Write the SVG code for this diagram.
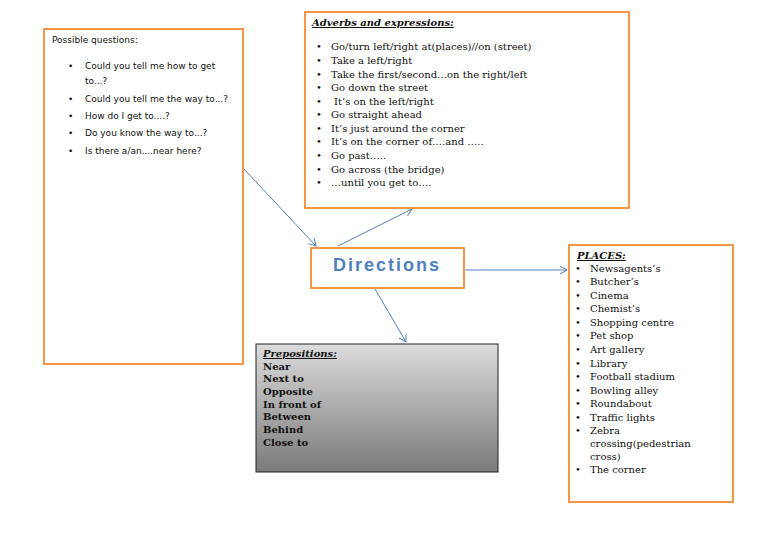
<svg xmlns="http://www.w3.org/2000/svg" width="768" height="543" viewBox="0 0 768 543">
<style>
.box{fill:#fff;stroke:#f79646;stroke-width:2}
.s{font-family:"DejaVu Serif","Liberation Serif",serif;font-size:10px;fill:#111}
.q{font-family:"DejaVu Sans","Liberation Sans",sans-serif;font-size:9px;fill:#111}
.b{font-family:"DejaVu Serif",serif;font-size:10px;font-weight:bold;fill:#111}
.h{font-weight:bold;font-style:italic;text-decoration:underline}
.c{stroke:#4f81bd;stroke-width:1;fill:none;marker-end:url(#a)}
</style>
<defs>
<marker id="a" markerWidth="10" markerHeight="10" refX="8" refY="5" orient="auto" markerUnits="userSpaceOnUse"><path d="M1,1 L8,5 L1,9" fill="none" stroke="#4f81bd" stroke-width="1"/></marker>
<linearGradient id="g" x1="0" y1="0" x2="0" y2="1"><stop offset="0" stop-color="#dcdcdc"/><stop offset="1" stop-color="#7a7a7a"/></linearGradient>
</defs>
<rect width="768" height="543" fill="#fff"/>
<g id="connectors">
<path class="c" d="M243,168 L316,246"/>
<path class="c" d="M338,246 L412,209"/>
<path class="c" d="M464,270 L567,270"/>
<path class="c" d="M375,289 L406,342"/>
</g>
<g id="questions">
<rect class="box" x="44" y="29" width="199" height="335"/>
<text class="q" x="52" y="43">Possible questions:</text>
<g class="q">
<text x="68" y="69">•</text><text x="85" y="69">Could you tell me how to get</text><text x="85" y="84">to...?</text>
<text x="68" y="102">•</text><text x="85" y="102">Could you tell me the way to...?</text>
<text x="68" y="119">•</text><text x="85" y="119">How do I get to....?</text>
<text x="68" y="136">•</text><text x="85" y="136">Do you know the way to...?</text>
<text x="68" y="154">•</text><text x="85" y="154">Is there a/an....near here?</text>
</g>
</g>
<g id="adverbs">
<rect class="box" x="305" y="12" width="324" height="196"/>
<text class="s h" x="312" y="26">Adverbs and expressions:</text>
<g class="s">
<text x="316" y="50">•</text><text x="331" y="50">Go/turn left/right at(places)//on (street)</text>
<text x="316" y="64">•</text><text x="331" y="64">Take a left/right</text>
<text x="316" y="78">•</text><text x="331" y="78">Take the first/second…on the right/left</text>
<text x="316" y="91">•</text><text x="331" y="91">Go down the street</text>
<text x="316" y="105">•</text><text x="334" y="105">It’s on the left/right</text>
<text x="316" y="118">•</text><text x="331" y="118">Go straight ahead</text>
<text x="316" y="132">•</text><text x="331" y="132">It’s just around the corner</text>
<text x="316" y="145">•</text><text x="331" y="145">It’s on the corner of….and …..</text>
<text x="316" y="159">•</text><text x="331" y="159">Go past…..</text>
<text x="316" y="173">•</text><text x="331" y="173">Go across (the bridge)</text>
<text x="316" y="186">•</text><text x="331" y="186">…until you get to….</text>
</g>
</g>
<g id="directions">
<rect class="box" x="311" y="248" width="153" height="40"/>
<text x="387" y="271" text-anchor="middle" font-family="Liberation Sans,sans-serif" font-size="18" font-weight="bold" letter-spacing="2" fill="#4f81bd">Directions</text>
</g>
<g id="places">
<rect class="box" x="569" y="245" width="164" height="257"/>
<text class="s h" x="577" y="259">PLACES:</text>
<g class="s">
<text x="575" y="272">•</text><text x="590" y="272">Newsagents’s</text>
<text x="575" y="285">•</text><text x="590" y="285">Butcher’s</text>
<text x="575" y="299">•</text><text x="590" y="299">Cinema</text>
<text x="575" y="312">•</text><text x="590" y="312">Chemist’s</text>
<text x="575" y="326">•</text><text x="590" y="326">Shopping centre</text>
<text x="575" y="339">•</text><text x="590" y="339">Pet shop</text>
<text x="575" y="353">•</text><text x="590" y="353">Art gallery</text>
<text x="575" y="367">•</text><text x="590" y="367">Library</text>
<text x="575" y="380">•</text><text x="590" y="380">Football stadium</text>
<text x="575" y="394">•</text><text x="590" y="394">Bowling alley</text>
<text x="575" y="407">•</text><text x="590" y="407">Roundabout</text>
<text x="575" y="421">•</text><text x="590" y="421">Traffic lights</text>
<text x="575" y="434">•</text><text x="590" y="434">Zebra</text>
<text x="590" y="447">crossing(pedestrian</text>
<text x="590" y="460">cross)</text>
<text x="575" y="473">•</text><text x="590" y="473">The corner</text>
</g>
</g>
<g id="prepositions">
<rect x="256" y="344" width="242" height="128" fill="url(#g)" stroke="#222" stroke-width="1"/>
<text class="s h" x="263" y="357">Prepositions:</text>
<g class="b">
<text x="263" y="370">Near</text>
<text x="263" y="382">Next to</text>
<text x="263" y="395">Opposite</text>
<text x="263" y="408">In front of</text>
<text x="263" y="420">Between</text>
<text x="263" y="433">Behind</text>
<text x="263" y="446">Close to</text>
</g>
</g>
</svg>
